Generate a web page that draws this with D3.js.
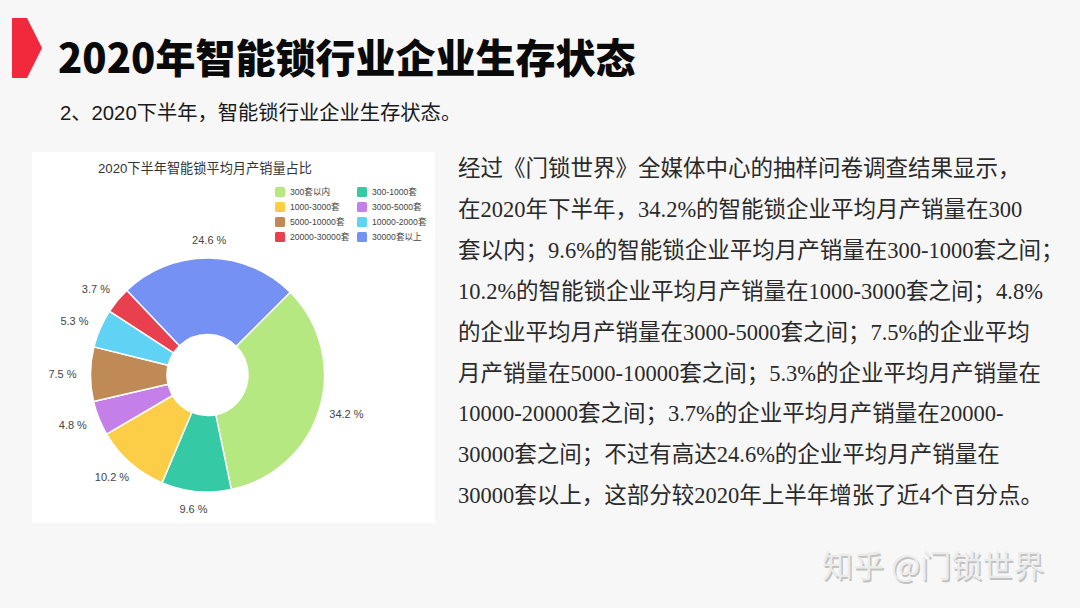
<!DOCTYPE html>
<html>
<head>
<meta charset="utf-8">
<script src="https://cdn.jsdelivr.net/npm/d3@7/dist/d3.min.js"></script>
<style>
  html, body { margin: 0; padding: 0; background: #f7f7f7; }
  svg { display: block; }
</style>
</head>
<body>
<svg id="chart" width="1080" height="608"></svg>
<script>
// ---- data ----
const pageTitle = "2020年智能锁行业企业生存状态";
const subTitle = "2、2020下半年，智能锁行业企业生存状态。";
const chartTitle = "2020下半年智能锁平均月产销量占比";
const categories = ["300套以内", "300-1000套", "1000-3000套", "3000-5000套",
                    "5000-10000套", "10000-2000套", "20000-30000套", "30000套以上"];
const values = [34.2, 9.6, 10.2, 4.8, 7.5, 5.3, 3.7, 24.6];
const colors = ["#b5e881", "#35c9a5", "#fccd46", "#c57fe9", "#c08a56", "#60d3f4", "#e8404f", "#7591f3"];
const paragraphLines = [
  "经过《门锁世界》全媒体中心的抽样问卷调查结果显示，",
  "在2020年下半年，34.2%的智能锁企业平均月产销量在300",
  "套以内；9.6%的智能锁企业平均月产销量在300-1000套之间；",
  "10.2%的智能锁企业平均月产销量在1000-3000套之间；4.8%",
  "的企业平均月产销量在3000-5000套之间；7.5%的企业平均",
  "月产销量在5000-10000套之间；5.3%的企业平均月产销量在",
  "10000-20000套之间；3.7%的企业平均月产销量在20000-",
  "30000套之间；不过有高达24.6%的企业平均月产销量在",
  "30000套以上，这部分较2020年上半年增张了近4个百分点。"
];
const watermark = "知乎 @门锁世界";

// ---- drawing ----
const svg = d3.select("#chart");
const sans = "'Noto Sans CJK SC', 'Noto Sans', sans-serif";
const latinSans = "'Liberation Sans', 'Noto Sans CJK SC', sans-serif";
const serif = "'Liberation Serif', 'Noto Sans CJK SC', serif";

svg.append("rect").attr("width", 1080).attr("height", 608).attr("fill", "#f7f7f7");

// red marker
svg.append("path")
  .attr("d", d3.line()([[12, 18], [27, 18], [42, 48], [27, 78], [12, 78]]) + "Z")
  .attr("fill", "#f2283c");

svg.append("text").attr("x", 58).attr("y", 73)
  .attr("font-family", sans).attr("font-weight", 900).attr("font-size", 40)
  .attr("fill", "#0a0a0a").text(pageTitle);

svg.append("text").attr("x", 60).attr("y", 120)
  .attr("font-family", latinSans).attr("font-size", 20.3)
  .attr("fill", "#1a1a1a").text(subTitle);

// chart panel
svg.append("rect").attr("x", 32).attr("y", 152).attr("width", 403).attr("height", 371)
  .attr("fill", "#ffffff");

svg.append("text").attr("x", 205).attr("y", 172.5).attr("text-anchor", "middle")
  .attr("font-family", latinSans).attr("font-size", 13.2).attr("fill", "#333").text(chartTitle);

// legend
const legend = svg.append("g");
categories.forEach((c, i) => {
  const col = i % 2, row = Math.floor(i / 2);
  const x = col === 0 ? 275 : 357;
  const y = 192 + row * 15;
  legend.append("rect").attr("x", x).attr("y", y - 5).attr("width", 10).attr("height", 10)
    .attr("rx", 1.5).attr("fill", colors[i]);
  legend.append("text").attr("x", x + 15).attr("y", y + 3)
    .attr("font-family", latinSans).attr("font-size", 8.6).attr("fill", "#444").text(c);
});

// donut
const cx = 207.5, cy = 375, rOuter = 117, rInner = 40.5;
const pie = d3.pie().sort(null).value(d => d)
  .startAngle(Math.PI / 4).endAngle(Math.PI / 4 + 2 * Math.PI);
const arcs = pie(values);
const arc = d3.arc().innerRadius(rInner).outerRadius(rOuter);
const g = svg.append("g").attr("transform", `translate(${cx},${cy})`);
g.selectAll("path").data(arcs).join("path")
  .attr("d", arc)
  .attr("fill", (d, i) => colors[i])
  .attr("stroke", "#fff").attr("stroke-width", 1.5).attr("stroke-linejoin", "round");

const labelR = rOuter + 18;
g.selectAll("text.lbl").data(arcs).join("text").attr("class", "lbl")
  .each(function (d) {
    const a = (d.startAngle + d.endAngle) / 2;
    const s = Math.sin(a), c = Math.cos(a);
    d3.select(this)
      .attr("x", labelR * s + 10 * s)
      .attr("y", -labelR * c + 4)
      .attr("text-anchor", "middle");
  })
  .attr("font-family", latinSans).attr("font-size", 11).attr("fill", "#444")
  .text(d => d.data.toFixed(1) + " %");

// paragraph
const para = svg.append("g");
paragraphLines.forEach((line, i) => {
  para.append("text").attr("x", 458).attr("y", 176 + i * 40.9)
    .attr("font-family", serif).attr("font-size", 22.5).attr("fill", "#2a2a2a")
    .text(line);
});

// watermark
svg.append("text").attr("x", 823.5).attr("y", 578.5)
  .attr("font-family", sans).attr("font-size", 31).attr("fill", "#a0a0a0")
  .attr("opacity", 0.6).text(watermark);
svg.append("text").attr("x", 822).attr("y", 577)
  .attr("font-family", sans).attr("font-size", 31).attr("fill", "#ebebeb")
  .text(watermark);
</script>
</body>
</html>
